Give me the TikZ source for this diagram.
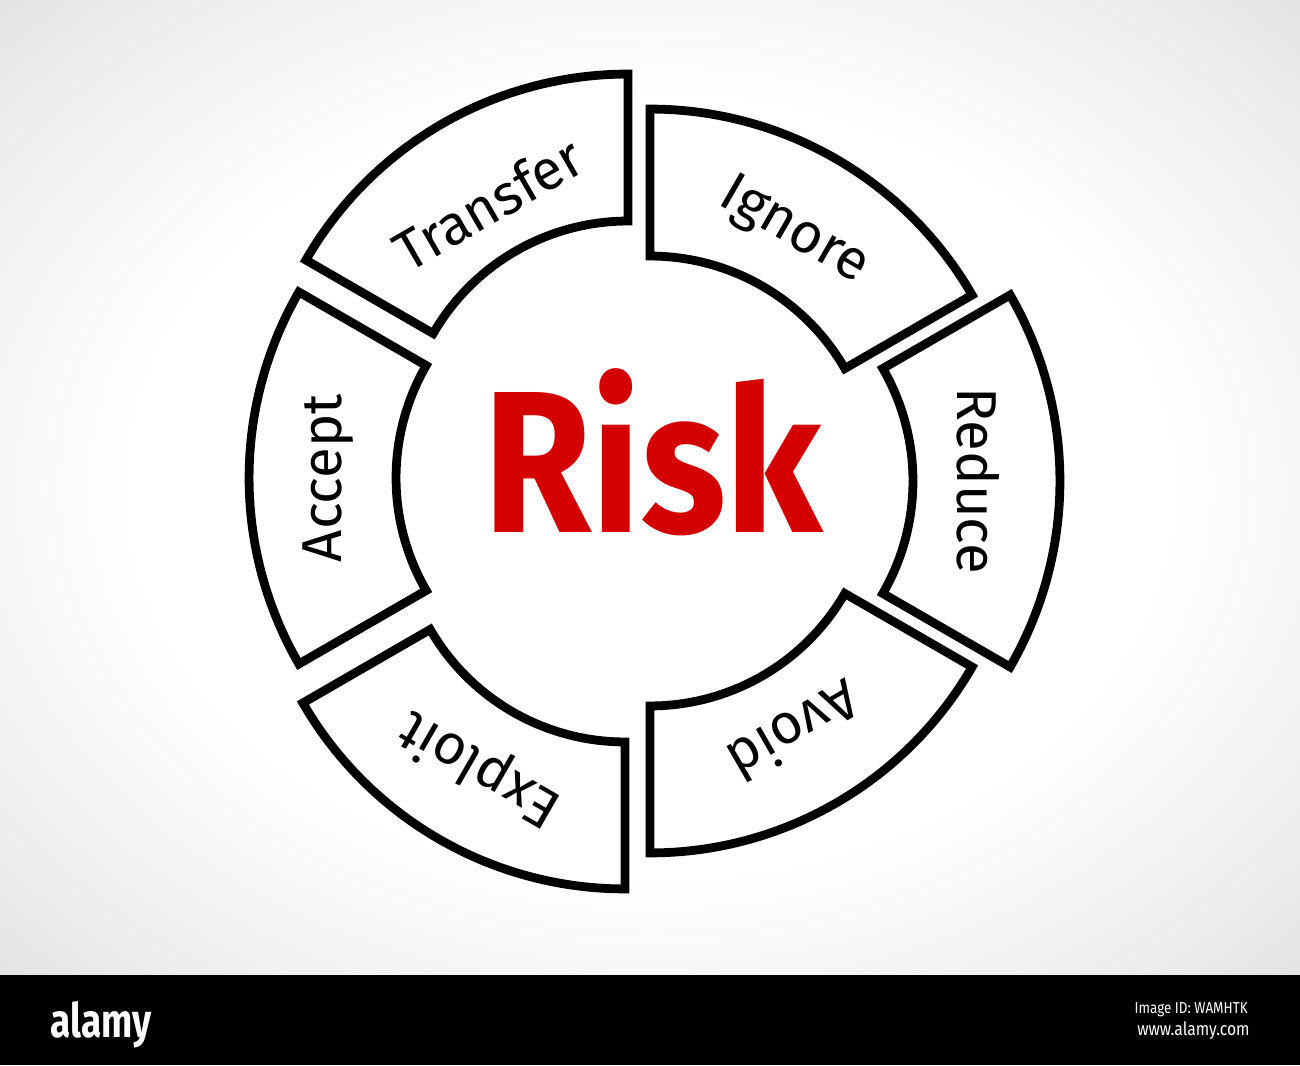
\documentclass[tikz,border=0pt]{standalone}
\usepackage{fontspec}
\setmainfont{Fira Sans}
\usetikzlibrary{positioning,calc}

\definecolor{riskred}{RGB}{212,0,0}
\pgfdeclareradialshading{backglow}{\pgfpoint{0bp}{0bp}}{color(0bp)=(white); color(20bp)=(white); color(32bp)=(black!8); color(50bp)=(black!25)}

\newcommand{\seginner}{4.5cm}
\newcommand{\segouter}{7.44cm}

\tikzset{
   segment/.style={draw=black, line width=5pt, fill=white},
   seglabel/.style={font=\fontsize{32}{32}\selectfont, inner sep=0pt},
   bartext/.style={text=white, inner sep=0pt},
}

% one ring piece: centre x, centre y, start angle, end angle, name
\newcommand{\riskseg}[5]{%
   \coordinate (#5c) at (#1,#2);
   \draw[segment] ($(#5c)+(#3:\seginner)$)
   arc[start angle=#3, end angle=#4, radius=\seginner]
   -- ($(#5c)+(#4:\segouter)$)
   arc[start angle=#4, end angle=#3, radius=\segouter] -- cycle;
}

\begin{document}
\begin{tikzpicture}[x=0.02cm, y=0.02cm]
   \useasboundingbox (0,0) rectangle (1300,1065);

   % background and bottom bar
   \shade[shading=backglow] (0,90) rectangle (1300,1065);
   \fill[black] (0,0) rectangle (1300,90);

   % ring pieces
   \riskseg{628}{619}{90}{150}{transfer}
   \riskseg{650}{584}{30}{90}{ignore}
   \riskseg{688}{584}{-30}{30}{reduce}
   \riskseg{650}{584}{-90}{-30}{avoid}
   \riskseg{625}{548}{-150}{-90}{exploit}
   \riskseg{621}{587}{150}{210}{accept}

   % labels
   \node[seglabel, rotate=30]   (transfer) at ($(transferc)+(120:5.6cm)$) {Transfer};
   \node[seglabel, rotate=-30]  (ignore)   at ($(ignorec)+(60:5.75cm)$)   {Ignore};
   \node[seglabel, rotate=-90]  (reduce)   at ($(reducec)+(0:5.8cm)$)     {Reduce};
   \node[seglabel, rotate=-150] (avoid)    at ($(avoidc)+(-60:5.8cm)$)    {Avoid};
   \node[seglabel, rotate=150]  (exploit)  at ($(exploitc)+(-120:5.8cm)$) {Exploit};
   \node[seglabel, rotate=90]   (accept)   at ($(acceptc)+(180:5.85cm)$)  {Accept};

   % centre word
   \node[anchor=base, text=riskred, inner sep=0pt,
         font=\fontsize{100}{100}\selectfont\bfseries] (risk) at (653,532)
         {\scalebox{1}[1.15]{Risk}};

   % bar texts
   \node[bartext, anchor=base west, font=\fontsize{27}{27}\selectfont\bfseries]
         (alamylogo) at (50,28) {\scalebox{0.78}[1]{alamy}};
   \node[bartext, anchor=base east, font=\fontsize{9}{9}\selectfont]
         (imageid) at (1248,52) {\scalebox{0.85}[1]{Image ID: WAMHTK}};
   \node[bartext, anchor=base east, font=\fontsize{10.5}{10.5}\selectfont]
         (website) at (1250,30) {\scalebox{0.85}[1]{www.alamy.com}};
\end{tikzpicture}
\end{document}
